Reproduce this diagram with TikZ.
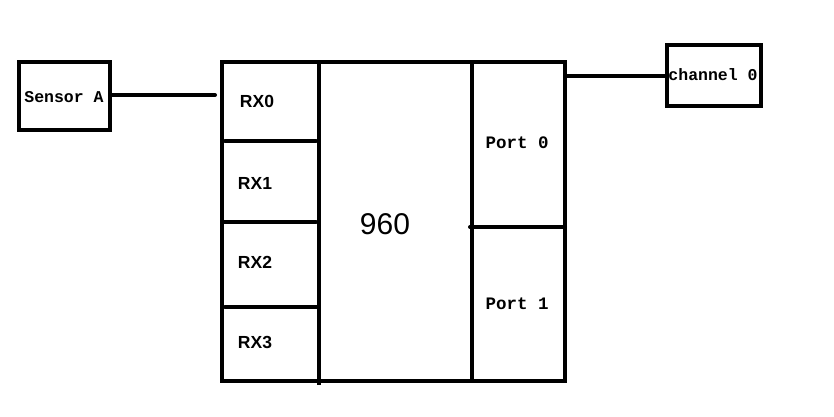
\documentclass[tikz,border=0pt]{standalone}
\usepackage{fontspec}
\usepackage{tikz}
\setmainfont{Liberation Sans}
\newfontfamily\monofont{Liberation Mono}

\tikzset{
  blk/.style={draw, line width=4pt, inner sep=0pt},
  lbl/.style={font=\monofont\bfseries\fontsize{16.5}{18}\selectfont},
  rxlbl/.style={font=\bfseries\fontsize{17.5}{19}\selectfont},
  portlbl/.style={font=\monofont\bfseries\fontsize{17.5}{19}\selectfont}
}

\begin{document}
\begin{tikzpicture}[x=1pt, y=-1pt, line width=4pt]
 \useasboundingbox (0,0) rectangle (834,416);

 \node[blk, minimum width=91pt, minimum height=68pt] (sensor) at (64.5, 96) {};
 \node[lbl] (sensortxt) at (64, 97) {Sensor A};
 \node[blk, minimum width=94pt, minimum height=61pt] (chan) at (714, 75.5) {};
 \node[lbl] (chantxt) at (713, 75) {channel 0};

 % 960 frame
 \draw (222, 62) rectangle (565, 381);
 \draw (319, 62) -- (319, 385);
 \draw (472, 62) -- (472, 381);
 \draw[line cap=round] (225, 141) -- (316, 141);
 \draw[line cap=round] (224, 222) -- (316, 222);
 \draw[line cap=round] (225, 307) -- (317, 307);
 \draw[line cap=round] (470, 227) -- (565, 227);

 \node[rxlbl] (rx0) at (257, 101) {RX0};
 \node[rxlbl] (rx1) at (255, 183) {RX1};
 \node[rxlbl] (rx2) at (255, 262) {RX2};
 \node[rxlbl] (rx3) at (255, 342) {RX3};
 \node[font=\fontsize{30}{32}\selectfont] (chip) at (385, 224) {960};
 \node[portlbl] (port0) at (517, 143) {Port 0};
 \node[portlbl] (port1) at (517, 304) {Port 1};

 \coordinate (rxin) at (215, 95);
 \coordinate (portout) at (567, 76);
 \draw[line cap=round] (sensor.east |- rxin) -- (rxin);
 \draw (portout) -- (chan.west |- portout);
\end{tikzpicture}
\end{document}
